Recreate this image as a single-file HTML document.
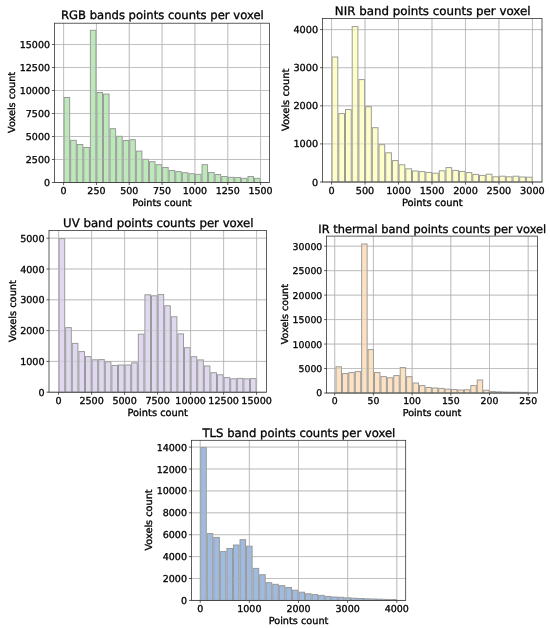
<!DOCTYPE html>
<html lang="en"><head><meta charset="utf-8"><title>Points counts per voxel</title>
<style>html,body{margin:0;padding:0;background:#fff}svg{display:block}text{font-family:'DejaVu Sans', 'Liberation Sans', sans-serif;fill:#000;stroke:#000;stroke-width:0.32px;text-rendering:geometricPrecision}</style></head><body>
<svg width="550" height="628" viewBox="0 0 550 628">
<rect width="550" height="628" fill="#fff"/>
<g>
<line x1="63.6" y1="23.2" x2="63.6" y2="182.5" stroke="#b2b2b2" stroke-width="0.7"/>
<line x1="96.43" y1="23.2" x2="96.43" y2="182.5" stroke="#b2b2b2" stroke-width="0.7"/>
<line x1="129.26" y1="23.2" x2="129.26" y2="182.5" stroke="#b2b2b2" stroke-width="0.7"/>
<line x1="162.09" y1="23.2" x2="162.09" y2="182.5" stroke="#b2b2b2" stroke-width="0.7"/>
<line x1="194.92" y1="23.2" x2="194.92" y2="182.5" stroke="#b2b2b2" stroke-width="0.7"/>
<line x1="227.75" y1="23.2" x2="227.75" y2="182.5" stroke="#b2b2b2" stroke-width="0.7"/>
<line x1="260.58" y1="23.2" x2="260.58" y2="182.5" stroke="#b2b2b2" stroke-width="0.7"/>
<line x1="54.4" y1="182.5" x2="269.4" y2="182.5" stroke="#b2b2b2" stroke-width="0.7"/>
<line x1="54.4" y1="159.5" x2="269.4" y2="159.5" stroke="#b2b2b2" stroke-width="0.7"/>
<line x1="54.4" y1="136.5" x2="269.4" y2="136.5" stroke="#b2b2b2" stroke-width="0.7"/>
<line x1="54.4" y1="113.5" x2="269.4" y2="113.5" stroke="#b2b2b2" stroke-width="0.7"/>
<line x1="54.4" y1="90.5" x2="269.4" y2="90.5" stroke="#b2b2b2" stroke-width="0.7"/>
<line x1="54.4" y1="67.5" x2="269.4" y2="67.5" stroke="#b2b2b2" stroke-width="0.7"/>
<line x1="54.4" y1="44.5" x2="269.4" y2="44.5" stroke="#b2b2b2" stroke-width="0.7"/>
<rect x="64.09" y="97.5" width="5.58" height="85" fill="#bce8ba" stroke="#979797" stroke-width="0.95"/>
<rect x="70.66" y="140.3" width="5.58" height="42.2" fill="#bce8ba" stroke="#979797" stroke-width="0.95"/>
<rect x="77.23" y="144.5" width="5.58" height="38" fill="#bce8ba" stroke="#979797" stroke-width="0.95"/>
<rect x="83.79" y="147.5" width="5.58" height="35" fill="#bce8ba" stroke="#979797" stroke-width="0.95"/>
<rect x="90.36" y="30.3" width="5.58" height="152.2" fill="#bce8ba" stroke="#979797" stroke-width="0.95"/>
<rect x="96.93" y="92.5" width="5.58" height="90" fill="#bce8ba" stroke="#979797" stroke-width="0.95"/>
<rect x="103.49" y="94.1" width="5.58" height="88.4" fill="#bce8ba" stroke="#979797" stroke-width="0.95"/>
<rect x="110.06" y="128.7" width="5.58" height="53.8" fill="#bce8ba" stroke="#979797" stroke-width="0.95"/>
<rect x="116.63" y="136.3" width="5.58" height="46.2" fill="#bce8ba" stroke="#979797" stroke-width="0.95"/>
<rect x="123.2" y="140.5" width="5.58" height="42" fill="#bce8ba" stroke="#979797" stroke-width="0.95"/>
<rect x="129.76" y="139.7" width="5.58" height="42.8" fill="#bce8ba" stroke="#979797" stroke-width="0.95"/>
<rect x="136.33" y="151.1" width="5.58" height="31.4" fill="#bce8ba" stroke="#979797" stroke-width="0.95"/>
<rect x="142.9" y="159.3" width="5.58" height="23.2" fill="#bce8ba" stroke="#979797" stroke-width="0.95"/>
<rect x="149.46" y="161.7" width="5.58" height="20.8" fill="#bce8ba" stroke="#979797" stroke-width="0.95"/>
<rect x="156.03" y="164.7" width="5.58" height="17.8" fill="#bce8ba" stroke="#979797" stroke-width="0.95"/>
<rect x="162.6" y="167.5" width="5.58" height="15" fill="#bce8ba" stroke="#979797" stroke-width="0.95"/>
<rect x="169.16" y="170.5" width="5.58" height="12" fill="#bce8ba" stroke="#979797" stroke-width="0.95"/>
<rect x="175.73" y="171.6" width="5.58" height="10.9" fill="#bce8ba" stroke="#979797" stroke-width="0.95"/>
<rect x="182.3" y="172.7" width="5.58" height="9.8" fill="#bce8ba" stroke="#979797" stroke-width="0.95"/>
<rect x="188.87" y="173.7" width="5.58" height="8.8" fill="#bce8ba" stroke="#979797" stroke-width="0.95"/>
<rect x="195.43" y="174.3" width="5.58" height="8.2" fill="#bce8ba" stroke="#979797" stroke-width="0.95"/>
<rect x="202" y="164.7" width="5.58" height="17.8" fill="#bce8ba" stroke="#979797" stroke-width="0.95"/>
<rect x="208.57" y="172.5" width="5.58" height="10" fill="#bce8ba" stroke="#979797" stroke-width="0.95"/>
<rect x="215.13" y="174.5" width="5.58" height="8" fill="#bce8ba" stroke="#979797" stroke-width="0.95"/>
<rect x="221.7" y="176.5" width="5.58" height="6" fill="#bce8ba" stroke="#979797" stroke-width="0.95"/>
<rect x="228.27" y="177.3" width="5.58" height="5.2" fill="#bce8ba" stroke="#979797" stroke-width="0.95"/>
<rect x="234.83" y="177.5" width="5.58" height="5" fill="#bce8ba" stroke="#979797" stroke-width="0.95"/>
<rect x="241.4" y="178.3" width="5.58" height="4.2" fill="#bce8ba" stroke="#979797" stroke-width="0.95"/>
<rect x="247.97" y="176.5" width="5.58" height="6" fill="#bce8ba" stroke="#979797" stroke-width="0.95"/>
<rect x="254.54" y="178.3" width="5.58" height="4.2" fill="#bce8ba" stroke="#979797" stroke-width="0.95"/>
<line x1="63.6" y1="23.2" x2="63.6" y2="182.5" stroke="#b2b2b2" stroke-width="0.7" stroke-opacity="0.55"/>
<line x1="96.43" y1="23.2" x2="96.43" y2="182.5" stroke="#b2b2b2" stroke-width="0.7" stroke-opacity="0.55"/>
<line x1="129.26" y1="23.2" x2="129.26" y2="182.5" stroke="#b2b2b2" stroke-width="0.7" stroke-opacity="0.55"/>
<line x1="162.09" y1="23.2" x2="162.09" y2="182.5" stroke="#b2b2b2" stroke-width="0.7" stroke-opacity="0.55"/>
<line x1="194.92" y1="23.2" x2="194.92" y2="182.5" stroke="#b2b2b2" stroke-width="0.7" stroke-opacity="0.55"/>
<line x1="227.75" y1="23.2" x2="227.75" y2="182.5" stroke="#b2b2b2" stroke-width="0.7" stroke-opacity="0.55"/>
<line x1="260.58" y1="23.2" x2="260.58" y2="182.5" stroke="#b2b2b2" stroke-width="0.7" stroke-opacity="0.55"/>
<line x1="54.4" y1="182.5" x2="269.4" y2="182.5" stroke="#b2b2b2" stroke-width="0.7" stroke-opacity="0.55"/>
<line x1="54.4" y1="159.5" x2="269.4" y2="159.5" stroke="#b2b2b2" stroke-width="0.7" stroke-opacity="0.55"/>
<line x1="54.4" y1="136.5" x2="269.4" y2="136.5" stroke="#b2b2b2" stroke-width="0.7" stroke-opacity="0.55"/>
<line x1="54.4" y1="113.5" x2="269.4" y2="113.5" stroke="#b2b2b2" stroke-width="0.7" stroke-opacity="0.55"/>
<line x1="54.4" y1="90.5" x2="269.4" y2="90.5" stroke="#b2b2b2" stroke-width="0.7" stroke-opacity="0.55"/>
<line x1="54.4" y1="67.5" x2="269.4" y2="67.5" stroke="#b2b2b2" stroke-width="0.7" stroke-opacity="0.55"/>
<line x1="54.4" y1="44.5" x2="269.4" y2="44.5" stroke="#b2b2b2" stroke-width="0.7" stroke-opacity="0.55"/>
<rect x="54.4" y="23.2" width="215" height="159.3" fill="none" stroke="#2a2a2a" stroke-width="0.75"/>
<line x1="63.6" y1="182.5" x2="63.6" y2="185" stroke="#2a2a2a" stroke-width="0.75"/>
<text x="63.6" y="193.95" font-size="9.5" text-anchor="middle">0</text>
<line x1="96.43" y1="182.5" x2="96.43" y2="185" stroke="#2a2a2a" stroke-width="0.75"/>
<text x="96.43" y="193.95" font-size="9.5" text-anchor="middle">250</text>
<line x1="129.26" y1="182.5" x2="129.26" y2="185" stroke="#2a2a2a" stroke-width="0.75"/>
<text x="129.26" y="193.95" font-size="9.5" text-anchor="middle">500</text>
<line x1="162.09" y1="182.5" x2="162.09" y2="185" stroke="#2a2a2a" stroke-width="0.75"/>
<text x="162.09" y="193.95" font-size="9.5" text-anchor="middle">750</text>
<line x1="194.92" y1="182.5" x2="194.92" y2="185" stroke="#2a2a2a" stroke-width="0.75"/>
<text x="194.92" y="193.95" font-size="9.5" text-anchor="middle">1000</text>
<line x1="227.75" y1="182.5" x2="227.75" y2="185" stroke="#2a2a2a" stroke-width="0.75"/>
<text x="227.75" y="193.95" font-size="9.5" text-anchor="middle">1250</text>
<line x1="260.58" y1="182.5" x2="260.58" y2="185" stroke="#2a2a2a" stroke-width="0.75"/>
<text x="260.58" y="193.95" font-size="9.5" text-anchor="middle">1500</text>
<line x1="51.9" y1="182.5" x2="54.4" y2="182.5" stroke="#2a2a2a" stroke-width="0.75"/>
<text x="50" y="186" font-size="9.5" text-anchor="end">0</text>
<line x1="51.9" y1="159.5" x2="54.4" y2="159.5" stroke="#2a2a2a" stroke-width="0.75"/>
<text x="50" y="163" font-size="9.5" text-anchor="end">2500</text>
<line x1="51.9" y1="136.5" x2="54.4" y2="136.5" stroke="#2a2a2a" stroke-width="0.75"/>
<text x="50" y="140" font-size="9.5" text-anchor="end">5000</text>
<line x1="51.9" y1="113.5" x2="54.4" y2="113.5" stroke="#2a2a2a" stroke-width="0.75"/>
<text x="50" y="117" font-size="9.5" text-anchor="end">7500</text>
<line x1="51.9" y1="90.5" x2="54.4" y2="90.5" stroke="#2a2a2a" stroke-width="0.75"/>
<text x="50" y="94" font-size="9.5" text-anchor="end">10000</text>
<line x1="51.9" y1="67.5" x2="54.4" y2="67.5" stroke="#2a2a2a" stroke-width="0.75"/>
<text x="50" y="71" font-size="9.5" text-anchor="end">12500</text>
<line x1="51.9" y1="44.5" x2="54.4" y2="44.5" stroke="#2a2a2a" stroke-width="0.75"/>
<text x="50" y="48" font-size="9.5" text-anchor="end">15000</text>
<text x="161.9" y="205.9" font-size="9.7" text-anchor="middle">Points count</text>
<text x="162.4" y="19" font-size="11.6" text-anchor="middle">RGB bands points counts per voxel</text>
<text transform="translate(15.2 102.45) rotate(-90)" font-size="9.7" text-anchor="middle">Voxels count</text>
</g>
<g>
<line x1="331.55" y1="18.5" x2="331.55" y2="182" stroke="#b2b2b2" stroke-width="0.7"/>
<line x1="365.03" y1="18.5" x2="365.03" y2="182" stroke="#b2b2b2" stroke-width="0.7"/>
<line x1="398.51" y1="18.5" x2="398.51" y2="182" stroke="#b2b2b2" stroke-width="0.7"/>
<line x1="431.99" y1="18.5" x2="431.99" y2="182" stroke="#b2b2b2" stroke-width="0.7"/>
<line x1="465.47" y1="18.5" x2="465.47" y2="182" stroke="#b2b2b2" stroke-width="0.7"/>
<line x1="498.95" y1="18.5" x2="498.95" y2="182" stroke="#b2b2b2" stroke-width="0.7"/>
<line x1="532.43" y1="18.5" x2="532.43" y2="182" stroke="#b2b2b2" stroke-width="0.7"/>
<line x1="322.6" y1="182" x2="542" y2="182" stroke="#b2b2b2" stroke-width="0.7"/>
<line x1="322.6" y1="143.9" x2="542" y2="143.9" stroke="#b2b2b2" stroke-width="0.7"/>
<line x1="322.6" y1="105.8" x2="542" y2="105.8" stroke="#b2b2b2" stroke-width="0.7"/>
<line x1="322.6" y1="67.7" x2="542" y2="67.7" stroke="#b2b2b2" stroke-width="0.7"/>
<line x1="322.6" y1="29.6" x2="542" y2="29.6" stroke="#b2b2b2" stroke-width="0.7"/>
<rect x="332.1" y="57" width="5.7" height="125" fill="#fefec8" stroke="#979797" stroke-width="0.95"/>
<rect x="338.8" y="113.6" width="5.7" height="68.4" fill="#fefec8" stroke="#979797" stroke-width="0.95"/>
<rect x="345.5" y="109.6" width="5.7" height="72.4" fill="#fefec8" stroke="#979797" stroke-width="0.95"/>
<rect x="352.2" y="26.6" width="5.7" height="155.4" fill="#fefec8" stroke="#979797" stroke-width="0.95"/>
<rect x="358.9" y="79.6" width="5.7" height="102.4" fill="#fefec8" stroke="#979797" stroke-width="0.95"/>
<rect x="365.6" y="106.7" width="5.7" height="75.3" fill="#fefec8" stroke="#979797" stroke-width="0.95"/>
<rect x="372.3" y="127.7" width="5.7" height="54.3" fill="#fefec8" stroke="#979797" stroke-width="0.95"/>
<rect x="379" y="144.7" width="5.7" height="37.3" fill="#fefec8" stroke="#979797" stroke-width="0.95"/>
<rect x="385.7" y="152.8" width="5.7" height="29.2" fill="#fefec8" stroke="#979797" stroke-width="0.95"/>
<rect x="392.4" y="160.6" width="5.7" height="21.4" fill="#fefec8" stroke="#979797" stroke-width="0.95"/>
<rect x="399.1" y="164.8" width="5.7" height="17.2" fill="#fefec8" stroke="#979797" stroke-width="0.95"/>
<rect x="405.8" y="168.8" width="5.7" height="13.2" fill="#fefec8" stroke="#979797" stroke-width="0.95"/>
<rect x="412.5" y="171" width="5.7" height="11" fill="#fefec8" stroke="#979797" stroke-width="0.95"/>
<rect x="419.2" y="171.6" width="5.7" height="10.4" fill="#fefec8" stroke="#979797" stroke-width="0.95"/>
<rect x="425.9" y="172.4" width="5.7" height="9.6" fill="#fefec8" stroke="#979797" stroke-width="0.95"/>
<rect x="432.6" y="173.2" width="5.7" height="8.8" fill="#fefec8" stroke="#979797" stroke-width="0.95"/>
<rect x="439.3" y="170.8" width="5.7" height="11.2" fill="#fefec8" stroke="#979797" stroke-width="0.95"/>
<rect x="446" y="167.6" width="5.7" height="14.4" fill="#fefec8" stroke="#979797" stroke-width="0.95"/>
<rect x="452.7" y="170.4" width="5.7" height="11.6" fill="#fefec8" stroke="#979797" stroke-width="0.95"/>
<rect x="459.4" y="171.4" width="5.7" height="10.6" fill="#fefec8" stroke="#979797" stroke-width="0.95"/>
<rect x="466.1" y="172.6" width="5.7" height="9.4" fill="#fefec8" stroke="#979797" stroke-width="0.95"/>
<rect x="472.8" y="174.4" width="5.7" height="7.6" fill="#fefec8" stroke="#979797" stroke-width="0.95"/>
<rect x="479.5" y="175.4" width="5.7" height="6.6" fill="#fefec8" stroke="#979797" stroke-width="0.95"/>
<rect x="486.2" y="174.2" width="5.7" height="7.8" fill="#fefec8" stroke="#979797" stroke-width="0.95"/>
<rect x="492.9" y="176.8" width="5.7" height="5.2" fill="#fefec8" stroke="#979797" stroke-width="0.95"/>
<rect x="499.6" y="176.2" width="5.7" height="5.8" fill="#fefec8" stroke="#979797" stroke-width="0.95"/>
<rect x="506.3" y="176.8" width="5.7" height="5.2" fill="#fefec8" stroke="#979797" stroke-width="0.95"/>
<rect x="513" y="176.2" width="5.7" height="5.8" fill="#fefec8" stroke="#979797" stroke-width="0.95"/>
<rect x="519.7" y="177" width="5.7" height="5" fill="#fefec8" stroke="#979797" stroke-width="0.95"/>
<rect x="526.4" y="177.2" width="5.7" height="4.8" fill="#fefec8" stroke="#979797" stroke-width="0.95"/>
<line x1="331.55" y1="18.5" x2="331.55" y2="182" stroke="#b2b2b2" stroke-width="0.7" stroke-opacity="0.55"/>
<line x1="365.03" y1="18.5" x2="365.03" y2="182" stroke="#b2b2b2" stroke-width="0.7" stroke-opacity="0.55"/>
<line x1="398.51" y1="18.5" x2="398.51" y2="182" stroke="#b2b2b2" stroke-width="0.7" stroke-opacity="0.55"/>
<line x1="431.99" y1="18.5" x2="431.99" y2="182" stroke="#b2b2b2" stroke-width="0.7" stroke-opacity="0.55"/>
<line x1="465.47" y1="18.5" x2="465.47" y2="182" stroke="#b2b2b2" stroke-width="0.7" stroke-opacity="0.55"/>
<line x1="498.95" y1="18.5" x2="498.95" y2="182" stroke="#b2b2b2" stroke-width="0.7" stroke-opacity="0.55"/>
<line x1="532.43" y1="18.5" x2="532.43" y2="182" stroke="#b2b2b2" stroke-width="0.7" stroke-opacity="0.55"/>
<line x1="322.6" y1="182" x2="542" y2="182" stroke="#b2b2b2" stroke-width="0.7" stroke-opacity="0.55"/>
<line x1="322.6" y1="143.9" x2="542" y2="143.9" stroke="#b2b2b2" stroke-width="0.7" stroke-opacity="0.55"/>
<line x1="322.6" y1="105.8" x2="542" y2="105.8" stroke="#b2b2b2" stroke-width="0.7" stroke-opacity="0.55"/>
<line x1="322.6" y1="67.7" x2="542" y2="67.7" stroke="#b2b2b2" stroke-width="0.7" stroke-opacity="0.55"/>
<line x1="322.6" y1="29.6" x2="542" y2="29.6" stroke="#b2b2b2" stroke-width="0.7" stroke-opacity="0.55"/>
<rect x="322.6" y="18.5" width="219.4" height="163.5" fill="none" stroke="#2a2a2a" stroke-width="0.75"/>
<line x1="331.55" y1="182" x2="331.55" y2="184.55" stroke="#2a2a2a" stroke-width="0.75"/>
<text x="331.55" y="193.69" font-size="9.7" text-anchor="middle">0</text>
<line x1="365.03" y1="182" x2="365.03" y2="184.55" stroke="#2a2a2a" stroke-width="0.75"/>
<text x="365.03" y="193.69" font-size="9.7" text-anchor="middle">500</text>
<line x1="398.51" y1="182" x2="398.51" y2="184.55" stroke="#2a2a2a" stroke-width="0.75"/>
<text x="398.51" y="193.69" font-size="9.7" text-anchor="middle">1000</text>
<line x1="431.99" y1="182" x2="431.99" y2="184.55" stroke="#2a2a2a" stroke-width="0.75"/>
<text x="431.99" y="193.69" font-size="9.7" text-anchor="middle">1500</text>
<line x1="465.47" y1="182" x2="465.47" y2="184.55" stroke="#2a2a2a" stroke-width="0.75"/>
<text x="465.47" y="193.69" font-size="9.7" text-anchor="middle">2000</text>
<line x1="498.95" y1="182" x2="498.95" y2="184.55" stroke="#2a2a2a" stroke-width="0.75"/>
<text x="498.95" y="193.69" font-size="9.7" text-anchor="middle">2500</text>
<line x1="532.43" y1="182" x2="532.43" y2="184.55" stroke="#2a2a2a" stroke-width="0.75"/>
<text x="532.43" y="193.69" font-size="9.7" text-anchor="middle">3000</text>
<line x1="320.05" y1="182" x2="322.6" y2="182" stroke="#2a2a2a" stroke-width="0.75"/>
<text x="318.11" y="185.57" font-size="9.7" text-anchor="end">0</text>
<line x1="320.05" y1="143.9" x2="322.6" y2="143.9" stroke="#2a2a2a" stroke-width="0.75"/>
<text x="318.11" y="147.47" font-size="9.7" text-anchor="end">1000</text>
<line x1="320.05" y1="105.8" x2="322.6" y2="105.8" stroke="#2a2a2a" stroke-width="0.75"/>
<text x="318.11" y="109.37" font-size="9.7" text-anchor="end">2000</text>
<line x1="320.05" y1="67.7" x2="322.6" y2="67.7" stroke="#2a2a2a" stroke-width="0.75"/>
<text x="318.11" y="71.27" font-size="9.7" text-anchor="end">3000</text>
<line x1="320.05" y1="29.6" x2="322.6" y2="29.6" stroke="#2a2a2a" stroke-width="0.75"/>
<text x="318.11" y="33.17" font-size="9.7" text-anchor="end">4000</text>
<text x="432.3" y="205.89" font-size="9.9" text-anchor="middle">Points count</text>
<text x="432.7" y="14.72" font-size="11.84" text-anchor="middle">NIR band points counts per voxel</text>
<text transform="translate(288.6 99.85) rotate(-90)" font-size="9.9" text-anchor="middle">Voxels count</text>
</g>
<g>
<line x1="58.6" y1="230.6" x2="58.6" y2="392.2" stroke="#b2b2b2" stroke-width="0.7"/>
<line x1="91.6" y1="230.6" x2="91.6" y2="392.2" stroke="#b2b2b2" stroke-width="0.7"/>
<line x1="124.6" y1="230.6" x2="124.6" y2="392.2" stroke="#b2b2b2" stroke-width="0.7"/>
<line x1="157.6" y1="230.6" x2="157.6" y2="392.2" stroke="#b2b2b2" stroke-width="0.7"/>
<line x1="190.6" y1="230.6" x2="190.6" y2="392.2" stroke="#b2b2b2" stroke-width="0.7"/>
<line x1="223.6" y1="230.6" x2="223.6" y2="392.2" stroke="#b2b2b2" stroke-width="0.7"/>
<line x1="256.6" y1="230.6" x2="256.6" y2="392.2" stroke="#b2b2b2" stroke-width="0.7"/>
<line x1="49" y1="392.2" x2="266.4" y2="392.2" stroke="#b2b2b2" stroke-width="0.7"/>
<line x1="49" y1="361.4" x2="266.4" y2="361.4" stroke="#b2b2b2" stroke-width="0.7"/>
<line x1="49" y1="330.6" x2="266.4" y2="330.6" stroke="#b2b2b2" stroke-width="0.7"/>
<line x1="49" y1="299.8" x2="266.4" y2="299.8" stroke="#b2b2b2" stroke-width="0.7"/>
<line x1="49" y1="269" x2="266.4" y2="269" stroke="#b2b2b2" stroke-width="0.7"/>
<line x1="49" y1="238.2" x2="266.4" y2="238.2" stroke="#b2b2b2" stroke-width="0.7"/>
<rect x="59.09" y="238.6" width="5.61" height="153.6" fill="#dfd8ee" stroke="#979797" stroke-width="0.95"/>
<rect x="65.7" y="327.6" width="5.61" height="64.6" fill="#dfd8ee" stroke="#979797" stroke-width="0.95"/>
<rect x="72.3" y="343.4" width="5.61" height="48.8" fill="#dfd8ee" stroke="#979797" stroke-width="0.95"/>
<rect x="78.9" y="351.6" width="5.61" height="40.6" fill="#dfd8ee" stroke="#979797" stroke-width="0.95"/>
<rect x="85.5" y="356.6" width="5.61" height="35.6" fill="#dfd8ee" stroke="#979797" stroke-width="0.95"/>
<rect x="92.09" y="359.8" width="5.61" height="32.4" fill="#dfd8ee" stroke="#979797" stroke-width="0.95"/>
<rect x="98.69" y="359.6" width="5.61" height="32.6" fill="#dfd8ee" stroke="#979797" stroke-width="0.95"/>
<rect x="105.3" y="361.8" width="5.61" height="30.4" fill="#dfd8ee" stroke="#979797" stroke-width="0.95"/>
<rect x="111.9" y="365.4" width="5.61" height="26.8" fill="#dfd8ee" stroke="#979797" stroke-width="0.95"/>
<rect x="118.5" y="365" width="5.61" height="27.2" fill="#dfd8ee" stroke="#979797" stroke-width="0.95"/>
<rect x="125.09" y="365" width="5.61" height="27.2" fill="#dfd8ee" stroke="#979797" stroke-width="0.95"/>
<rect x="131.69" y="362.8" width="5.61" height="29.4" fill="#dfd8ee" stroke="#979797" stroke-width="0.95"/>
<rect x="138.29" y="334.2" width="5.61" height="58" fill="#dfd8ee" stroke="#979797" stroke-width="0.95"/>
<rect x="144.9" y="294.8" width="5.61" height="97.4" fill="#dfd8ee" stroke="#979797" stroke-width="0.95"/>
<rect x="151.5" y="295.8" width="5.61" height="96.4" fill="#dfd8ee" stroke="#979797" stroke-width="0.95"/>
<rect x="158.09" y="294.6" width="5.61" height="97.6" fill="#dfd8ee" stroke="#979797" stroke-width="0.95"/>
<rect x="164.69" y="305.8" width="5.61" height="86.4" fill="#dfd8ee" stroke="#979797" stroke-width="0.95"/>
<rect x="171.29" y="316.8" width="5.61" height="75.4" fill="#dfd8ee" stroke="#979797" stroke-width="0.95"/>
<rect x="177.9" y="333.9" width="5.61" height="58.3" fill="#dfd8ee" stroke="#979797" stroke-width="0.95"/>
<rect x="184.5" y="347.7" width="5.61" height="44.5" fill="#dfd8ee" stroke="#979797" stroke-width="0.95"/>
<rect x="191.09" y="356.7" width="5.61" height="35.5" fill="#dfd8ee" stroke="#979797" stroke-width="0.95"/>
<rect x="197.69" y="359.9" width="5.61" height="32.3" fill="#dfd8ee" stroke="#979797" stroke-width="0.95"/>
<rect x="204.29" y="366" width="5.61" height="26.2" fill="#dfd8ee" stroke="#979797" stroke-width="0.95"/>
<rect x="210.89" y="372.7" width="5.61" height="19.5" fill="#dfd8ee" stroke="#979797" stroke-width="0.95"/>
<rect x="217.49" y="374.8" width="5.61" height="17.4" fill="#dfd8ee" stroke="#979797" stroke-width="0.95"/>
<rect x="224.09" y="377.6" width="5.61" height="14.6" fill="#dfd8ee" stroke="#979797" stroke-width="0.95"/>
<rect x="230.69" y="378.8" width="5.61" height="13.4" fill="#dfd8ee" stroke="#979797" stroke-width="0.95"/>
<rect x="237.29" y="378.4" width="5.61" height="13.8" fill="#dfd8ee" stroke="#979797" stroke-width="0.95"/>
<rect x="243.89" y="378.8" width="5.61" height="13.4" fill="#dfd8ee" stroke="#979797" stroke-width="0.95"/>
<rect x="250.49" y="378.6" width="5.61" height="13.6" fill="#dfd8ee" stroke="#979797" stroke-width="0.95"/>
<line x1="58.6" y1="230.6" x2="58.6" y2="392.2" stroke="#b2b2b2" stroke-width="0.7" stroke-opacity="0.55"/>
<line x1="91.6" y1="230.6" x2="91.6" y2="392.2" stroke="#b2b2b2" stroke-width="0.7" stroke-opacity="0.55"/>
<line x1="124.6" y1="230.6" x2="124.6" y2="392.2" stroke="#b2b2b2" stroke-width="0.7" stroke-opacity="0.55"/>
<line x1="157.6" y1="230.6" x2="157.6" y2="392.2" stroke="#b2b2b2" stroke-width="0.7" stroke-opacity="0.55"/>
<line x1="190.6" y1="230.6" x2="190.6" y2="392.2" stroke="#b2b2b2" stroke-width="0.7" stroke-opacity="0.55"/>
<line x1="223.6" y1="230.6" x2="223.6" y2="392.2" stroke="#b2b2b2" stroke-width="0.7" stroke-opacity="0.55"/>
<line x1="256.6" y1="230.6" x2="256.6" y2="392.2" stroke="#b2b2b2" stroke-width="0.7" stroke-opacity="0.55"/>
<line x1="49" y1="392.2" x2="266.4" y2="392.2" stroke="#b2b2b2" stroke-width="0.7" stroke-opacity="0.55"/>
<line x1="49" y1="361.4" x2="266.4" y2="361.4" stroke="#b2b2b2" stroke-width="0.7" stroke-opacity="0.55"/>
<line x1="49" y1="330.6" x2="266.4" y2="330.6" stroke="#b2b2b2" stroke-width="0.7" stroke-opacity="0.55"/>
<line x1="49" y1="299.8" x2="266.4" y2="299.8" stroke="#b2b2b2" stroke-width="0.7" stroke-opacity="0.55"/>
<line x1="49" y1="269" x2="266.4" y2="269" stroke="#b2b2b2" stroke-width="0.7" stroke-opacity="0.55"/>
<line x1="49" y1="238.2" x2="266.4" y2="238.2" stroke="#b2b2b2" stroke-width="0.7" stroke-opacity="0.55"/>
<rect x="49" y="230.6" width="217.4" height="161.6" fill="none" stroke="#2a2a2a" stroke-width="0.75"/>
<line x1="58.6" y1="392.2" x2="58.6" y2="394.73" stroke="#2a2a2a" stroke-width="0.75"/>
<text x="58.6" y="403.79" font-size="9.61" text-anchor="middle">0</text>
<line x1="91.6" y1="392.2" x2="91.6" y2="394.73" stroke="#2a2a2a" stroke-width="0.75"/>
<text x="91.6" y="403.79" font-size="9.61" text-anchor="middle">2500</text>
<line x1="124.6" y1="392.2" x2="124.6" y2="394.73" stroke="#2a2a2a" stroke-width="0.75"/>
<text x="124.6" y="403.79" font-size="9.61" text-anchor="middle">5000</text>
<line x1="157.6" y1="392.2" x2="157.6" y2="394.73" stroke="#2a2a2a" stroke-width="0.75"/>
<text x="157.6" y="403.79" font-size="9.61" text-anchor="middle">7500</text>
<line x1="190.6" y1="392.2" x2="190.6" y2="394.73" stroke="#2a2a2a" stroke-width="0.75"/>
<text x="190.6" y="403.79" font-size="9.61" text-anchor="middle">10000</text>
<line x1="223.6" y1="392.2" x2="223.6" y2="394.73" stroke="#2a2a2a" stroke-width="0.75"/>
<text x="223.6" y="403.79" font-size="9.61" text-anchor="middle">12500</text>
<line x1="256.6" y1="392.2" x2="256.6" y2="394.73" stroke="#2a2a2a" stroke-width="0.75"/>
<text x="256.6" y="403.79" font-size="9.61" text-anchor="middle">15000</text>
<line x1="46.47" y1="392.2" x2="49" y2="392.2" stroke="#2a2a2a" stroke-width="0.75"/>
<text x="44.55" y="395.74" font-size="9.61" text-anchor="end">0</text>
<line x1="46.47" y1="361.4" x2="49" y2="361.4" stroke="#2a2a2a" stroke-width="0.75"/>
<text x="44.55" y="364.94" font-size="9.61" text-anchor="end">1000</text>
<line x1="46.47" y1="330.6" x2="49" y2="330.6" stroke="#2a2a2a" stroke-width="0.75"/>
<text x="44.55" y="334.14" font-size="9.61" text-anchor="end">2000</text>
<line x1="46.47" y1="299.8" x2="49" y2="299.8" stroke="#2a2a2a" stroke-width="0.75"/>
<text x="44.55" y="303.34" font-size="9.61" text-anchor="end">3000</text>
<line x1="46.47" y1="269" x2="49" y2="269" stroke="#2a2a2a" stroke-width="0.75"/>
<text x="44.55" y="272.54" font-size="9.61" text-anchor="end">4000</text>
<line x1="46.47" y1="238.2" x2="49" y2="238.2" stroke="#2a2a2a" stroke-width="0.75"/>
<text x="44.55" y="241.74" font-size="9.61" text-anchor="end">5000</text>
<text x="157.7" y="415.88" font-size="9.82" text-anchor="middle">Points count</text>
<text x="158.3" y="226.5" font-size="11.74" text-anchor="middle">UV band points counts per voxel</text>
<text transform="translate(15.9 311) rotate(-90)" font-size="9.82" text-anchor="middle">Voxels count</text>
</g>
<g>
<line x1="334.7" y1="236.1" x2="334.7" y2="393" stroke="#b2b2b2" stroke-width="0.7"/>
<line x1="373.4" y1="236.1" x2="373.4" y2="393" stroke="#b2b2b2" stroke-width="0.7"/>
<line x1="412.1" y1="236.1" x2="412.1" y2="393" stroke="#b2b2b2" stroke-width="0.7"/>
<line x1="450.8" y1="236.1" x2="450.8" y2="393" stroke="#b2b2b2" stroke-width="0.7"/>
<line x1="489.5" y1="236.1" x2="489.5" y2="393" stroke="#b2b2b2" stroke-width="0.7"/>
<line x1="528.2" y1="236.1" x2="528.2" y2="393" stroke="#b2b2b2" stroke-width="0.7"/>
<line x1="326.6" y1="393" x2="537.4" y2="393" stroke="#b2b2b2" stroke-width="0.7"/>
<line x1="326.6" y1="368.53" x2="537.4" y2="368.53" stroke="#b2b2b2" stroke-width="0.7"/>
<line x1="326.6" y1="344.06" x2="537.4" y2="344.06" stroke="#b2b2b2" stroke-width="0.7"/>
<line x1="326.6" y1="319.59" x2="537.4" y2="319.59" stroke="#b2b2b2" stroke-width="0.7"/>
<line x1="326.6" y1="295.12" x2="537.4" y2="295.12" stroke="#b2b2b2" stroke-width="0.7"/>
<line x1="326.6" y1="270.65" x2="537.4" y2="270.65" stroke="#b2b2b2" stroke-width="0.7"/>
<line x1="326.6" y1="246.18" x2="537.4" y2="246.18" stroke="#b2b2b2" stroke-width="0.7"/>
<rect x="335.98" y="366.8" width="5.46" height="26.2" fill="#fde2c2" stroke="#979797" stroke-width="0.95"/>
<rect x="342.4" y="373.6" width="5.46" height="19.4" fill="#fde2c2" stroke="#979797" stroke-width="0.95"/>
<rect x="348.82" y="372.6" width="5.46" height="20.4" fill="#fde2c2" stroke="#979797" stroke-width="0.95"/>
<rect x="355.24" y="371.6" width="5.46" height="21.4" fill="#fde2c2" stroke="#979797" stroke-width="0.95"/>
<rect x="361.66" y="244" width="5.46" height="149" fill="#fde2c2" stroke="#979797" stroke-width="0.95"/>
<rect x="368.08" y="349.6" width="5.46" height="43.4" fill="#fde2c2" stroke="#979797" stroke-width="0.95"/>
<rect x="374.5" y="372.6" width="5.46" height="20.4" fill="#fde2c2" stroke="#979797" stroke-width="0.95"/>
<rect x="380.92" y="376.6" width="5.46" height="16.4" fill="#fde2c2" stroke="#979797" stroke-width="0.95"/>
<rect x="387.34" y="377.8" width="5.46" height="15.2" fill="#fde2c2" stroke="#979797" stroke-width="0.95"/>
<rect x="393.76" y="375.6" width="5.46" height="17.4" fill="#fde2c2" stroke="#979797" stroke-width="0.95"/>
<rect x="400.18" y="367.6" width="5.46" height="25.4" fill="#fde2c2" stroke="#979797" stroke-width="0.95"/>
<rect x="406.6" y="376.7" width="5.46" height="16.3" fill="#fde2c2" stroke="#979797" stroke-width="0.95"/>
<rect x="413.02" y="383" width="5.46" height="10" fill="#fde2c2" stroke="#979797" stroke-width="0.95"/>
<rect x="419.44" y="385.6" width="5.46" height="7.4" fill="#fde2c2" stroke="#979797" stroke-width="0.95"/>
<rect x="425.86" y="387.5" width="5.46" height="5.5" fill="#fde2c2" stroke="#979797" stroke-width="0.95"/>
<rect x="432.28" y="388" width="5.46" height="5" fill="#fde2c2" stroke="#979797" stroke-width="0.95"/>
<rect x="438.7" y="388.4" width="5.46" height="4.6" fill="#fde2c2" stroke="#979797" stroke-width="0.95"/>
<rect x="445.12" y="389.2" width="5.46" height="3.8" fill="#fde2c2" stroke="#979797" stroke-width="0.95"/>
<rect x="451.54" y="389.6" width="5.46" height="3.4" fill="#fde2c2" stroke="#979797" stroke-width="0.95"/>
<rect x="457.96" y="390" width="5.46" height="3" fill="#fde2c2" stroke="#979797" stroke-width="0.95"/>
<rect x="464.38" y="389.8" width="5.46" height="3.2" fill="#fde2c2" stroke="#979797" stroke-width="0.95"/>
<rect x="470.8" y="385.6" width="5.46" height="7.4" fill="#fde2c2" stroke="#979797" stroke-width="0.95"/>
<rect x="477.22" y="380" width="5.46" height="13" fill="#fde2c2" stroke="#979797" stroke-width="0.95"/>
<rect x="483.64" y="390.2" width="5.46" height="2.8" fill="#fde2c2" stroke="#979797" stroke-width="0.95"/>
<rect x="490.06" y="391.6" width="5.46" height="1.4" fill="#fde2c2" stroke="#979797" stroke-width="0.95"/>
<rect x="496.48" y="391.9" width="5.46" height="1.1" fill="#fde2c2" stroke="#979797" stroke-width="0.95"/>
<rect x="502.9" y="392.1" width="5.46" height="0.9" fill="#fde2c2" stroke="#979797" stroke-width="0.95"/>
<rect x="509.32" y="392.2" width="5.46" height="0.8" fill="#fde2c2" stroke="#979797" stroke-width="0.95"/>
<rect x="515.74" y="392.2" width="5.46" height="0.8" fill="#fde2c2" stroke="#979797" stroke-width="0.95"/>
<rect x="522.16" y="392.3" width="5.46" height="0.7" fill="#fde2c2" stroke="#979797" stroke-width="0.95"/>
<line x1="334.7" y1="236.1" x2="334.7" y2="393" stroke="#b2b2b2" stroke-width="0.7" stroke-opacity="0.55"/>
<line x1="373.4" y1="236.1" x2="373.4" y2="393" stroke="#b2b2b2" stroke-width="0.7" stroke-opacity="0.55"/>
<line x1="412.1" y1="236.1" x2="412.1" y2="393" stroke="#b2b2b2" stroke-width="0.7" stroke-opacity="0.55"/>
<line x1="450.8" y1="236.1" x2="450.8" y2="393" stroke="#b2b2b2" stroke-width="0.7" stroke-opacity="0.55"/>
<line x1="489.5" y1="236.1" x2="489.5" y2="393" stroke="#b2b2b2" stroke-width="0.7" stroke-opacity="0.55"/>
<line x1="528.2" y1="236.1" x2="528.2" y2="393" stroke="#b2b2b2" stroke-width="0.7" stroke-opacity="0.55"/>
<line x1="326.6" y1="393" x2="537.4" y2="393" stroke="#b2b2b2" stroke-width="0.7" stroke-opacity="0.55"/>
<line x1="326.6" y1="368.53" x2="537.4" y2="368.53" stroke="#b2b2b2" stroke-width="0.7" stroke-opacity="0.55"/>
<line x1="326.6" y1="344.06" x2="537.4" y2="344.06" stroke="#b2b2b2" stroke-width="0.7" stroke-opacity="0.55"/>
<line x1="326.6" y1="319.59" x2="537.4" y2="319.59" stroke="#b2b2b2" stroke-width="0.7" stroke-opacity="0.55"/>
<line x1="326.6" y1="295.12" x2="537.4" y2="295.12" stroke="#b2b2b2" stroke-width="0.7" stroke-opacity="0.55"/>
<line x1="326.6" y1="270.65" x2="537.4" y2="270.65" stroke="#b2b2b2" stroke-width="0.7" stroke-opacity="0.55"/>
<line x1="326.6" y1="246.18" x2="537.4" y2="246.18" stroke="#b2b2b2" stroke-width="0.7" stroke-opacity="0.55"/>
<rect x="326.6" y="236.1" width="210.8" height="156.9" fill="none" stroke="#2a2a2a" stroke-width="0.75"/>
<line x1="334.7" y1="393" x2="334.7" y2="395.46" stroke="#2a2a2a" stroke-width="0.75"/>
<text x="334.7" y="404.26" font-size="9.34" text-anchor="middle">0</text>
<line x1="373.4" y1="393" x2="373.4" y2="395.46" stroke="#2a2a2a" stroke-width="0.75"/>
<text x="373.4" y="404.26" font-size="9.34" text-anchor="middle">50</text>
<line x1="412.1" y1="393" x2="412.1" y2="395.46" stroke="#2a2a2a" stroke-width="0.75"/>
<text x="412.1" y="404.26" font-size="9.34" text-anchor="middle">100</text>
<line x1="450.8" y1="393" x2="450.8" y2="395.46" stroke="#2a2a2a" stroke-width="0.75"/>
<text x="450.8" y="404.26" font-size="9.34" text-anchor="middle">150</text>
<line x1="489.5" y1="393" x2="489.5" y2="395.46" stroke="#2a2a2a" stroke-width="0.75"/>
<text x="489.5" y="404.26" font-size="9.34" text-anchor="middle">200</text>
<line x1="528.2" y1="393" x2="528.2" y2="395.46" stroke="#2a2a2a" stroke-width="0.75"/>
<text x="528.2" y="404.26" font-size="9.34" text-anchor="middle">250</text>
<line x1="324.14" y1="393" x2="326.6" y2="393" stroke="#2a2a2a" stroke-width="0.75"/>
<text x="322.27" y="396.44" font-size="9.34" text-anchor="end">0</text>
<line x1="324.14" y1="368.53" x2="326.6" y2="368.53" stroke="#2a2a2a" stroke-width="0.75"/>
<text x="322.27" y="371.97" font-size="9.34" text-anchor="end">5000</text>
<line x1="324.14" y1="344.06" x2="326.6" y2="344.06" stroke="#2a2a2a" stroke-width="0.75"/>
<text x="322.27" y="347.5" font-size="9.34" text-anchor="end">10000</text>
<line x1="324.14" y1="319.59" x2="326.6" y2="319.59" stroke="#2a2a2a" stroke-width="0.75"/>
<text x="322.27" y="323.03" font-size="9.34" text-anchor="end">15000</text>
<line x1="324.14" y1="295.12" x2="326.6" y2="295.12" stroke="#2a2a2a" stroke-width="0.75"/>
<text x="322.27" y="298.56" font-size="9.34" text-anchor="end">20000</text>
<line x1="324.14" y1="270.65" x2="326.6" y2="270.65" stroke="#2a2a2a" stroke-width="0.75"/>
<text x="322.27" y="274.09" font-size="9.34" text-anchor="end">25000</text>
<line x1="324.14" y1="246.18" x2="326.6" y2="246.18" stroke="#2a2a2a" stroke-width="0.75"/>
<text x="322.27" y="249.62" font-size="9.34" text-anchor="end">30000</text>
<text x="432" y="416" font-size="9.54" text-anchor="middle">Points count</text>
<text x="432.3" y="232.9" font-size="11.4" text-anchor="middle">IR thermal band points counts per voxel</text>
<text transform="translate(288.1 314.15) rotate(-90)" font-size="9.54" text-anchor="middle">Voxels count</text>
</g>
<g>
<line x1="200.2" y1="440.3" x2="200.2" y2="600.4" stroke="#b2b2b2" stroke-width="0.7"/>
<line x1="249.35" y1="440.3" x2="249.35" y2="600.4" stroke="#b2b2b2" stroke-width="0.7"/>
<line x1="298.5" y1="440.3" x2="298.5" y2="600.4" stroke="#b2b2b2" stroke-width="0.7"/>
<line x1="347.65" y1="440.3" x2="347.65" y2="600.4" stroke="#b2b2b2" stroke-width="0.7"/>
<line x1="396.8" y1="440.3" x2="396.8" y2="600.4" stroke="#b2b2b2" stroke-width="0.7"/>
<line x1="191.4" y1="600.4" x2="405.7" y2="600.4" stroke="#b2b2b2" stroke-width="0.7"/>
<line x1="191.4" y1="578.5" x2="405.7" y2="578.5" stroke="#b2b2b2" stroke-width="0.7"/>
<line x1="191.4" y1="556.6" x2="405.7" y2="556.6" stroke="#b2b2b2" stroke-width="0.7"/>
<line x1="191.4" y1="534.7" x2="405.7" y2="534.7" stroke="#b2b2b2" stroke-width="0.7"/>
<line x1="191.4" y1="512.8" x2="405.7" y2="512.8" stroke="#b2b2b2" stroke-width="0.7"/>
<line x1="191.4" y1="490.9" x2="405.7" y2="490.9" stroke="#b2b2b2" stroke-width="0.7"/>
<line x1="191.4" y1="469" x2="405.7" y2="469" stroke="#b2b2b2" stroke-width="0.7"/>
<line x1="191.4" y1="447.1" x2="405.7" y2="447.1" stroke="#b2b2b2" stroke-width="0.7"/>
<rect x="200.69" y="447.4" width="5.57" height="153" fill="#9fbbe0" stroke="#979797" stroke-width="0.95"/>
<rect x="207.24" y="533.6" width="5.57" height="66.8" fill="#9fbbe0" stroke="#979797" stroke-width="0.95"/>
<rect x="213.8" y="537.4" width="5.57" height="63" fill="#9fbbe0" stroke="#979797" stroke-width="0.95"/>
<rect x="220.35" y="551.6" width="5.57" height="48.8" fill="#9fbbe0" stroke="#979797" stroke-width="0.95"/>
<rect x="226.9" y="548.5" width="5.57" height="51.9" fill="#9fbbe0" stroke="#979797" stroke-width="0.95"/>
<rect x="233.46" y="545" width="5.57" height="55.4" fill="#9fbbe0" stroke="#979797" stroke-width="0.95"/>
<rect x="240.01" y="539.7" width="5.57" height="60.7" fill="#9fbbe0" stroke="#979797" stroke-width="0.95"/>
<rect x="246.56" y="546.2" width="5.57" height="54.2" fill="#9fbbe0" stroke="#979797" stroke-width="0.95"/>
<rect x="253.12" y="568.4" width="5.57" height="32" fill="#9fbbe0" stroke="#979797" stroke-width="0.95"/>
<rect x="259.67" y="574.7" width="5.57" height="25.7" fill="#9fbbe0" stroke="#979797" stroke-width="0.95"/>
<rect x="266.22" y="582.7" width="5.57" height="17.7" fill="#9fbbe0" stroke="#979797" stroke-width="0.95"/>
<rect x="272.77" y="584.3" width="5.57" height="16.1" fill="#9fbbe0" stroke="#979797" stroke-width="0.95"/>
<rect x="279.33" y="585.7" width="5.57" height="14.7" fill="#9fbbe0" stroke="#979797" stroke-width="0.95"/>
<rect x="285.88" y="587.5" width="5.57" height="12.9" fill="#9fbbe0" stroke="#979797" stroke-width="0.95"/>
<rect x="292.43" y="590.2" width="5.57" height="10.2" fill="#9fbbe0" stroke="#979797" stroke-width="0.95"/>
<rect x="298.99" y="592.2" width="5.57" height="8.2" fill="#9fbbe0" stroke="#979797" stroke-width="0.95"/>
<rect x="305.54" y="593.8" width="5.57" height="6.6" fill="#9fbbe0" stroke="#979797" stroke-width="0.95"/>
<rect x="312.09" y="594.6" width="5.57" height="5.8" fill="#9fbbe0" stroke="#979797" stroke-width="0.95"/>
<rect x="318.65" y="595.4" width="5.57" height="5" fill="#9fbbe0" stroke="#979797" stroke-width="0.95"/>
<rect x="325.2" y="596.4" width="5.57" height="4" fill="#9fbbe0" stroke="#979797" stroke-width="0.95"/>
<rect x="331.75" y="597" width="5.57" height="3.4" fill="#9fbbe0" stroke="#979797" stroke-width="0.95"/>
<rect x="338.3" y="597.3" width="5.57" height="3.1" fill="#9fbbe0" stroke="#979797" stroke-width="0.95"/>
<rect x="344.86" y="597.8" width="5.57" height="2.6" fill="#9fbbe0" stroke="#979797" stroke-width="0.95"/>
<rect x="351.41" y="598.2" width="5.57" height="2.2" fill="#9fbbe0" stroke="#979797" stroke-width="0.95"/>
<rect x="357.96" y="598.5" width="5.57" height="1.9" fill="#9fbbe0" stroke="#979797" stroke-width="0.95"/>
<rect x="364.52" y="598.8" width="5.57" height="1.6" fill="#9fbbe0" stroke="#979797" stroke-width="0.95"/>
<rect x="371.07" y="599" width="5.57" height="1.4" fill="#9fbbe0" stroke="#979797" stroke-width="0.95"/>
<rect x="377.62" y="599.2" width="5.57" height="1.2" fill="#9fbbe0" stroke="#979797" stroke-width="0.95"/>
<rect x="384.18" y="599.4" width="5.57" height="1" fill="#9fbbe0" stroke="#979797" stroke-width="0.95"/>
<rect x="390.73" y="599.5" width="5.57" height="0.9" fill="#9fbbe0" stroke="#979797" stroke-width="0.95"/>
<line x1="200.2" y1="440.3" x2="200.2" y2="600.4" stroke="#b2b2b2" stroke-width="0.7" stroke-opacity="0.55"/>
<line x1="249.35" y1="440.3" x2="249.35" y2="600.4" stroke="#b2b2b2" stroke-width="0.7" stroke-opacity="0.55"/>
<line x1="298.5" y1="440.3" x2="298.5" y2="600.4" stroke="#b2b2b2" stroke-width="0.7" stroke-opacity="0.55"/>
<line x1="347.65" y1="440.3" x2="347.65" y2="600.4" stroke="#b2b2b2" stroke-width="0.7" stroke-opacity="0.55"/>
<line x1="396.8" y1="440.3" x2="396.8" y2="600.4" stroke="#b2b2b2" stroke-width="0.7" stroke-opacity="0.55"/>
<line x1="191.4" y1="600.4" x2="405.7" y2="600.4" stroke="#b2b2b2" stroke-width="0.7" stroke-opacity="0.55"/>
<line x1="191.4" y1="578.5" x2="405.7" y2="578.5" stroke="#b2b2b2" stroke-width="0.7" stroke-opacity="0.55"/>
<line x1="191.4" y1="556.6" x2="405.7" y2="556.6" stroke="#b2b2b2" stroke-width="0.7" stroke-opacity="0.55"/>
<line x1="191.4" y1="534.7" x2="405.7" y2="534.7" stroke="#b2b2b2" stroke-width="0.7" stroke-opacity="0.55"/>
<line x1="191.4" y1="512.8" x2="405.7" y2="512.8" stroke="#b2b2b2" stroke-width="0.7" stroke-opacity="0.55"/>
<line x1="191.4" y1="490.9" x2="405.7" y2="490.9" stroke="#b2b2b2" stroke-width="0.7" stroke-opacity="0.55"/>
<line x1="191.4" y1="469" x2="405.7" y2="469" stroke="#b2b2b2" stroke-width="0.7" stroke-opacity="0.55"/>
<line x1="191.4" y1="447.1" x2="405.7" y2="447.1" stroke="#b2b2b2" stroke-width="0.7" stroke-opacity="0.55"/>
<rect x="191.4" y="440.3" width="214.3" height="160.1" fill="none" stroke="#2a2a2a" stroke-width="0.75"/>
<line x1="200.2" y1="600.4" x2="200.2" y2="602.9" stroke="#2a2a2a" stroke-width="0.75"/>
<text x="200.2" y="611.87" font-size="9.52" text-anchor="middle">0</text>
<line x1="249.35" y1="600.4" x2="249.35" y2="602.9" stroke="#2a2a2a" stroke-width="0.75"/>
<text x="249.35" y="611.87" font-size="9.52" text-anchor="middle">1000</text>
<line x1="298.5" y1="600.4" x2="298.5" y2="602.9" stroke="#2a2a2a" stroke-width="0.75"/>
<text x="298.5" y="611.87" font-size="9.52" text-anchor="middle">2000</text>
<line x1="347.65" y1="600.4" x2="347.65" y2="602.9" stroke="#2a2a2a" stroke-width="0.75"/>
<text x="347.65" y="611.87" font-size="9.52" text-anchor="middle">3000</text>
<line x1="396.8" y1="600.4" x2="396.8" y2="602.9" stroke="#2a2a2a" stroke-width="0.75"/>
<text x="396.8" y="611.87" font-size="9.52" text-anchor="middle">4000</text>
<line x1="188.9" y1="600.4" x2="191.4" y2="600.4" stroke="#2a2a2a" stroke-width="0.75"/>
<text x="186.99" y="603.91" font-size="9.52" text-anchor="end">0</text>
<line x1="188.9" y1="578.5" x2="191.4" y2="578.5" stroke="#2a2a2a" stroke-width="0.75"/>
<text x="186.99" y="582.01" font-size="9.52" text-anchor="end">2000</text>
<line x1="188.9" y1="556.6" x2="191.4" y2="556.6" stroke="#2a2a2a" stroke-width="0.75"/>
<text x="186.99" y="560.11" font-size="9.52" text-anchor="end">4000</text>
<line x1="188.9" y1="534.7" x2="191.4" y2="534.7" stroke="#2a2a2a" stroke-width="0.75"/>
<text x="186.99" y="538.21" font-size="9.52" text-anchor="end">6000</text>
<line x1="188.9" y1="512.8" x2="191.4" y2="512.8" stroke="#2a2a2a" stroke-width="0.75"/>
<text x="186.99" y="516.31" font-size="9.52" text-anchor="end">8000</text>
<line x1="188.9" y1="490.9" x2="191.4" y2="490.9" stroke="#2a2a2a" stroke-width="0.75"/>
<text x="186.99" y="494.41" font-size="9.52" text-anchor="end">10000</text>
<line x1="188.9" y1="469" x2="191.4" y2="469" stroke="#2a2a2a" stroke-width="0.75"/>
<text x="186.99" y="472.51" font-size="9.52" text-anchor="end">12000</text>
<line x1="188.9" y1="447.1" x2="191.4" y2="447.1" stroke="#2a2a2a" stroke-width="0.75"/>
<text x="186.99" y="450.61" font-size="9.52" text-anchor="end">14000</text>
<text x="298.55" y="623.85" font-size="9.72" text-anchor="middle">Points count</text>
<text x="298.95" y="436.7" font-size="11.62" text-anchor="middle">TLS band points counts per voxel</text>
<text transform="translate(152.1 519.95) rotate(-90)" font-size="9.72" text-anchor="middle">Voxels count</text>
</g>
</svg></body></html>
